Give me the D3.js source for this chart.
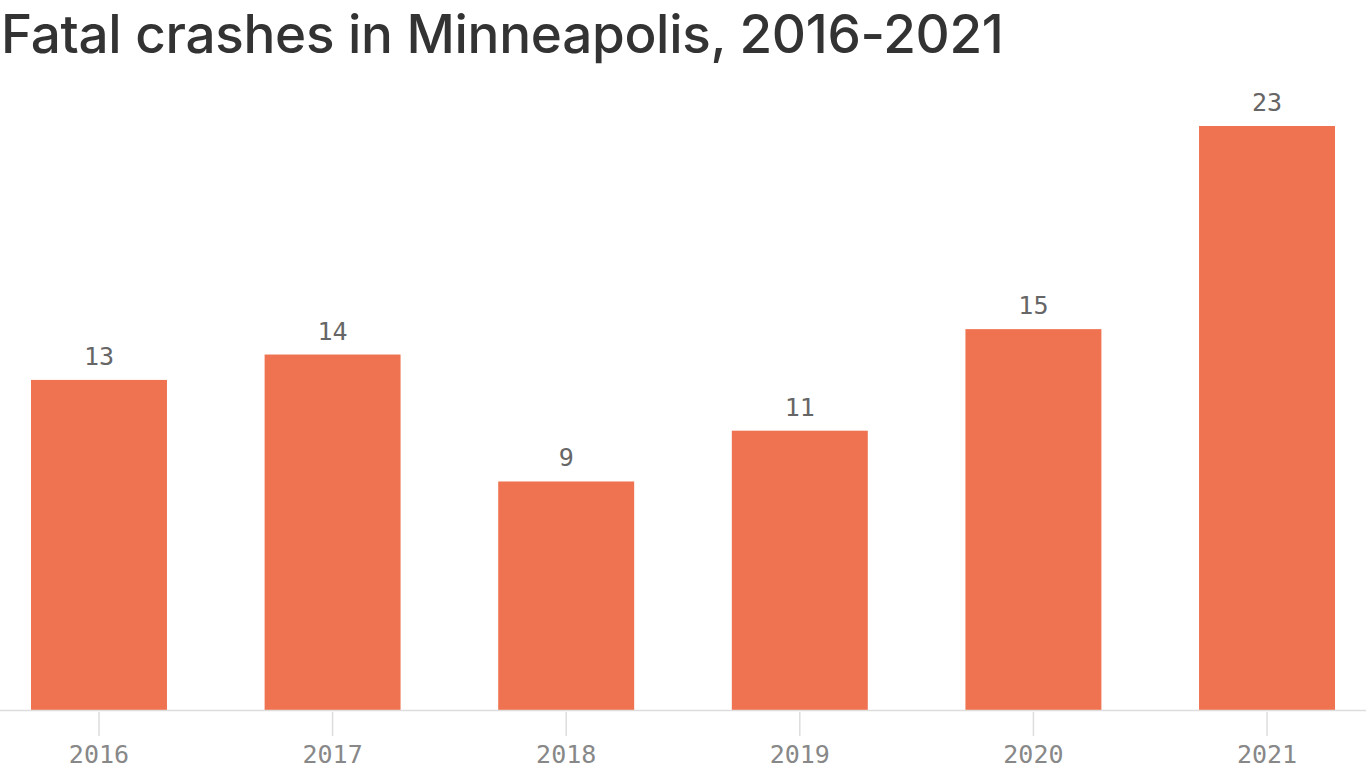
<!DOCTYPE html>
<html>
<head>
<meta charset="utf-8">
<script src="https://cdnjs.cloudflare.com/ajax/libs/d3/7.8.5/d3.min.js"></script>
<style>
  body { margin: 0; background: #fff; }
  .title { font-family: Inter, "Liberation Sans", sans-serif; fill: #333; }
  .val { font-family: "DejaVu Sans Mono", monospace; fill: #666; }
  .x-axis text { font-family: "DejaVu Sans Mono", monospace; fill: #888; }
</style>
</head>
<body>
<div id="chart-area"></div>
<script>
var years = ["2016", "2017", "2018", "2019", "2020", "2021"];
var crashes = [13, 14, 9, 11, 15, 23];

var width = 1366;
var height = 768;
var baseline = 710;

var svg = d3.select("#chart-area").append("svg")
  .attr("width", width)
  .attr("height", height);

svg.append("text")
  .attr("class", "title")
  .attr("x", 1)
  .attr("y", 53)
  .attr("font-size", 53)
  .attr("font-weight", 500)
  .attr("letter-spacing", -0.3)
  .text("Fatal crashes in Minneapolis, 2016-2021");

var x = d3.scaleBand()
  .domain(years)
  .range([31, 1335])
  .paddingInner(0.418)
  .paddingOuter(0);

var y = d3.scaleLinear()
  .domain([0, 23])
  .range([baseline, 126]);

var data = years.map(function(d, i) { return {year: d, n: crashes[i]}; });

svg.selectAll("rect.bar")
  .data(data)
  .enter()
  .append("rect")
  .attr("class", "bar")
  .attr("x", function(d) { return x(d.year); })
  .attr("y", function(d) { return y(d.n); })
  .attr("width", x.bandwidth())
  .attr("height", function(d) { return baseline - y(d.n); })
  .attr("fill", "#ef7350");

svg.selectAll("text.val")
  .data(data)
  .enter()
  .append("text")
  .attr("class", "val")
  .attr("text-anchor", "middle")
  .attr("x", function(d) { return x(d.year) + x.bandwidth() / 2; })
  .attr("y", function(d) { return y(d.n) - 15; })
  .attr("font-size", 25)
  .text(function(d) { return d.n; });

svg.append("line")
  .attr("x1", 0)
  .attr("x2", width)
  .attr("y1", baseline + 0.5)
  .attr("y2", baseline + 0.5)
  .attr("stroke", "#ddd")
  .attr("stroke-width", 1.5);

var xaxis = svg.append("g")
  .attr("class", "x-axis")
  .attr("transform", "translate(0," + (baseline + 2) + ")")
  .call(d3.axisBottom(x).tickSize(24).tickPadding(9));

xaxis.select(".domain").remove();
xaxis.selectAll(".tick line").attr("stroke", "#ddd").attr("stroke-width", 1.5);
xaxis.selectAll(".tick text").attr("font-size", 25);
</script>
</body>
</html>
